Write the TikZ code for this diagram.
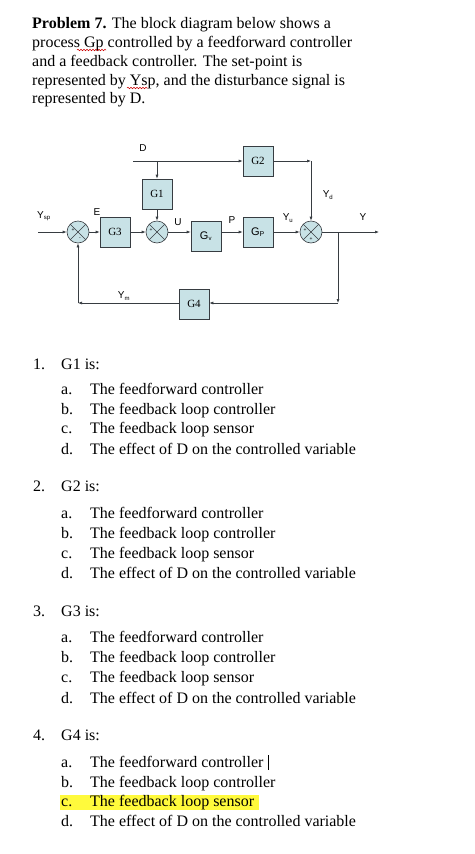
\documentclass[tikz,border=0pt]{standalone}
\usepackage{fontspec}
\setmainfont{Liberation Serif}
\setsansfont{Liberation Sans}
\usetikzlibrary{arrows.meta,decorations.pathmorphing}
\definecolor{boxc}{RGB}{200,226,230}
\definecolor{lnc}{RGB}{55,60,65}
\definecolor{hil}{RGB}{255,250,60}
\begin{document}
\begin{tikzpicture}[x=1pt,y=-1pt,
  blk/.style={draw=lnc, fill=boxc, minimum width=30pt, minimum height=30pt, inner sep=0pt, font=\fontsize{11}{12}\selectfont, line width=0.6pt},
  sblk/.style={blk, font=\sffamily\fontsize{11}{12}\selectfont},
  sum/.style={draw=lnc, fill=boxc, circle, minimum size=22pt, inner sep=0pt, line width=0.6pt},
  sig/.style={draw=lnc, line width=0.6pt, -{Latex[length=4pt,width=3pt]}},
  ln/.style={draw=lnc, line width=0.6pt},
  lab/.style={font=\sffamily\fontsize{10}{12}\selectfont, inner sep=0pt},
  sgn/.style={font=\sffamily\fontsize{5}{6}\selectfont, inner sep=0pt},
  txt/.style={anchor=base west, font=\fontsize{16}{19}\selectfont, inner sep=0pt},
  squig/.style={draw=red!80!black, line width=0.5pt, decorate, decoration={snake, amplitude=0.8pt, segment length=3pt}},
]
\useasboundingbox (0,0) rectangle (474,854);
\fill[white] (0,0) rectangle (474,854);

% ---------- problem statement ----------
\node[txt] (t1) at (32,28) {\textbf{Problem 7.} The block diagram below shows a};
\node[txt] (t2) at (32,47) {process Gp controlled by a feedforward controller};
\node[txt] (t3) at (32,66) {and a feedback controller. The set-point is};
\node[txt] (t4) at (32,85) {represented by Ysp, and the disturbance signal is};
\node[txt] (t5) at (32,103) {represented by D.};
\draw[squig] (77,50) -- (106,50);
\draw[squig] (127,88) -- (148,88);

% ---------- block diagram ----------
\node[blk] (g1) at (157,194) {G1};
\node[blk] (g2) at (258,161) {G2};
\node[blk] (g3) at (115,232) {G3};
\node[sblk] (gv) at (206,236) {G\textsubscript{\fontsize{6}{7}\selectfont v}};
\node[sblk] (gp) at (258,232) {G\textsubscript{\fontsize{7}{8}\selectfont P}};
\node[blk] (g4) at (194,304) {G4};
\node[sum] (s1) at (78,232) {};
\node[sum] (s2) at (157,232) {};
\node[sum] (s3) at (311,232) {};
\foreach \s in {s1,s2,s3}{
  \draw[ln] (\s.45) -- (\s.225);
  \draw[ln] (\s.135) -- (\s.315);
}
\node[sgn] (p1) at (73,230) {+};
\node[sgn] (m1) at (80,239) {-};
\node[sgn] (p2) at (151,230) {+};
\node[sgn] (p3) at (305,230) {+};
\node[sgn] (q3) at (311,239) {+};

\coordinate (din) at (133,161);
\coordinate (dj) at (157,161);
\coordinate (c1) at (311,161);
\coordinate (yin) at (38,232);
\coordinate (yout) at (379,232);
\coordinate (bY) at (338,232);
\coordinate (cY) at (338,303);
\coordinate (cF) at (78,303);

\draw[ln] (din) -- (dj);
\draw[sig] (dj) -- (g2.west);
\draw[sig] (dj) -- (g1.north);
\draw[sig] (g1.south) -- (s2.north);
\draw[sig] (g2.east) -- (c1);
\draw[sig] (c1) -- (s3.north);
\draw[sig] (yin) -- (s1.west);
\draw[sig] (s1.east) -- (g3.west);
\draw[sig] (g3.east) -- (s2.west);
\draw[sig] (s2.east) -- (s2.east -| gv.west);
\draw[sig] (gv.east |- s2.east) -- (gp.west);
\draw[sig] (gp.east) -- (s3.west);
\draw[sig] (s3.east) -- (yout);
\draw[sig] (bY) -- (cY);
\draw[sig] (cY) -- (g4.east |- cY);
\draw[sig] (g4.west |- cY) -- (cF);
\draw[sig] (cF) -- (s1.south);

\node[lab] (lD) at (143,148) {D};
\node[lab] (lYsp) at (44,216) {Y\textsubscript{\fontsize{6}{7}\selectfont sp}};
\node[lab] (lE) at (97,212) {E};
\node[lab] (lU) at (178,222) {U};
\node[lab] (lP) at (232,220) {P};
\node[lab] (lYd) at (328,195) {Y\textsubscript{\fontsize{6}{7}\selectfont d}};
\node[lab] (lYu) at (288,218) {Y\textsubscript{\fontsize{6}{7}\selectfont u}};
\node[lab] (lY) at (363,217) {Y};
\node[lab] (lYm) at (124,296) {Y\textsubscript{\fontsize{6}{7}\selectfont m}};

% ---------- questions ----------
\fill[hil] (60,795) rectangle (259,810);

\node[txt] (n1) at (33,369) {1.};
\node[txt] (h1) at (61,369) {G1 is:};
\node[txt] (a1) at (61,394) {a.};  \node[txt] (a1t) at (90,394) {The feedforward controller};
\node[txt] (b1) at (61,414) {b.};  \node[txt] (b1t) at (90,414) {The feedback loop controller};
\node[txt] (c1t0) at (61,433) {c.}; \node[txt] (c1t) at (90,433) {The feedback loop sensor};
\node[txt] (d1) at (61,454) {d.};  \node[txt] (d1t) at (90,454) {The effect of D on the controlled variable};

\node[txt] (n2) at (33,491) {2.};
\node[txt] (h2) at (61,491) {G2 is:};
\node[txt] (a2) at (61,518) {a.};  \node[txt] (a2t) at (90,518) {The feedforward controller};
\node[txt] (b2) at (61,538) {b.};  \node[txt] (b2t) at (90,538) {The feedback loop controller};
\node[txt] (c2) at (61,558) {c.};  \node[txt] (c2t) at (90,558) {The feedback loop sensor};
\node[txt] (d2) at (61,578) {d.};  \node[txt] (d2t) at (90,578) {The effect of D on the controlled variable};

\node[txt] (n3) at (33,616) {3.};
\node[txt] (h3) at (61,616) {G3 is:};
\node[txt] (a3) at (61,642) {a.};  \node[txt] (a3t) at (90,642) {The feedforward controller};
\node[txt] (b3) at (61,662) {b.};  \node[txt] (b3t) at (90,662) {The feedback loop controller};
\node[txt] (c3) at (61,682) {c.};  \node[txt] (c3t) at (90,682) {The feedback loop sensor};
\node[txt] (d3) at (61,703) {d.};  \node[txt] (d3t) at (90,703) {The effect of D on the controlled variable};

\node[txt] (n4) at (33,740) {4.};
\node[txt] (h4) at (61,740) {G4 is:};
\node[txt] (a4) at (61,767) {a.};  \node[txt] (a4t) at (90,767) {The feedforward controller};
\node[txt] (b4) at (61,787) {b.};  \node[txt] (b4t) at (90,787) {The feedback loop controller};
\node[txt] (c4) at (61,806) {c.};  \node[txt] (c4t) at (90,806) {The feedback loop sensor};
\node[txt] (d4) at (61,826) {d.};  \node[txt] (d4t) at (90,826) {The effect of D on the controlled variable};
\draw[black, line width=0.7pt] (268,755) -- (268,770);
\end{tikzpicture}
\end{document}
